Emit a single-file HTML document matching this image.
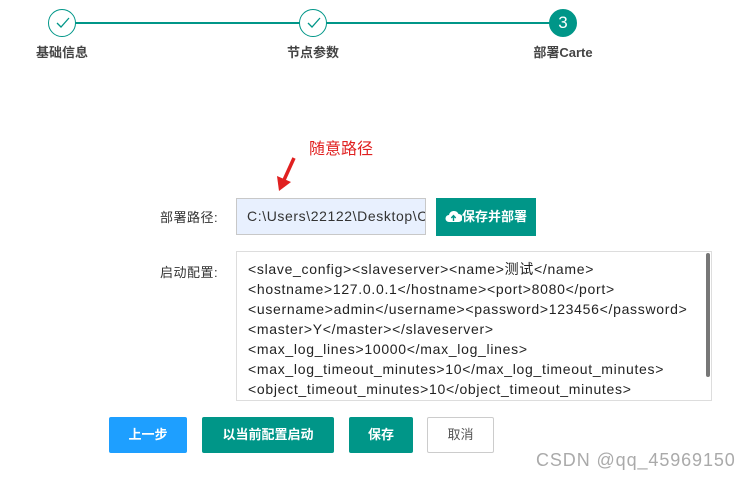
<!DOCTYPE html>
<html><head><meta charset="utf-8"><style>
body{margin:0;width:745px;height:482px;background:#fff;position:relative;overflow:hidden;font-family:"Liberation Sans","Noto Sans CJK SC",sans-serif;}
.a{position:absolute;}
.c{position:absolute;width:28px;height:28px;border-radius:50%;box-sizing:border-box;border:1.5px solid #009688;background:#fff;text-align:center;}
.lbl{position:absolute;font-size:13px;font-weight:bold;color:#444;white-space:nowrap;transform:translateX(-50%);top:42px;}
.btn{position:absolute;top:417px;height:36px;line-height:36px;text-align:center;color:#fff;font-size:13px;font-weight:bold;border-radius:2px;}
.ta div{height:20px;line-height:20px;}
</style></head><body>
<div class="a" style="left:62px;top:22px;width:501px;height:2px;background:#009688"></div>
<div class="c" style="left:48px;top:9px"><svg width="25" height="25"><path d="M7 13l4 4 8-9" fill="none" stroke="#009688" stroke-width="1.3"/></svg></div>
<div class="c" style="left:299px;top:9px"><svg width="25" height="25"><path d="M7 13l4 4 8-9" fill="none" stroke="#009688" stroke-width="1.3"/></svg></div>
<div class="c" style="left:549px;top:9px;background:#009688;color:#fff;font-size:17px;line-height:26px">3</div>
<div class="lbl" style="left:62px">基础信息</div>
<div class="lbl" style="left:313px">节点参数</div>
<div class="lbl" style="left:563px">部署Carte</div>
<div class="a" style="left:309px;top:135px;color:#e02020;font-size:16px">随意路径</div>
<svg class="a" style="left:270px;top:150px" width="40" height="45"><line x1="24" y1="8" x2="14" y2="30" stroke="#e02020" stroke-width="3.5"/><polygon points="7,26 21,32 9,41" fill="#e02020"/></svg>
<div class="a" style="left:160px;top:207px;font-size:13px;color:#333;letter-spacing:0.5px">部署路径:</div>
<div class="a" style="left:236px;top:198px;width:190px;height:37px;box-sizing:border-box;border:1px solid #c8c8c8;background:#e8f0fe;font-size:14px;line-height:35px;padding-left:10px;color:#333;overflow:hidden;white-space:nowrap;letter-spacing:0.6px">C:\Users\22122\Desktop\C</div>
<div class="a" style="left:436px;top:198px;width:100px;height:38px;background:#009688;color:#fff;font-size:13px;font-weight:bold;line-height:38px;text-align:center"><svg width="17" height="13" style="vertical-align:-2px"><path d="M4 12a3.5 3.5 0 0 1 0-7a5 5 0 0 1 9.5-1a4 4 0 0 1 0 8z" fill="#fff"/><path d="M8.5 11V6M6.3 8l2.2-2.3L10.7 8" stroke="#009688" stroke-width="1.4" fill="none"/></svg>保存并部署</div>
<div class="a" style="left:160px;top:262px;font-size:13px;color:#333;letter-spacing:0.5px">启动配置:</div>
<div class="a ta" style="left:236px;top:251px;width:476px;height:150px;box-sizing:border-box;border:1px solid #ddd;padding:7px 0 0 11px;font-size:14px;color:#222;white-space:nowrap;overflow:hidden;letter-spacing:0.7px">
<div>&lt;slave_config&gt;&lt;slaveserver&gt;&lt;name&gt;测试&lt;/name&gt;</div>
<div>&lt;hostname&gt;127.0.0.1&lt;/hostname&gt;&lt;port&gt;8080&lt;/port&gt;</div>
<div>&lt;username&gt;admin&lt;/username&gt;&lt;password&gt;123456&lt;/password&gt;</div>
<div>&lt;master&gt;Y&lt;/master&gt;&lt;/slaveserver&gt;</div>
<div>&lt;max_log_lines&gt;10000&lt;/max_log_lines&gt;</div>
<div>&lt;max_log_timeout_minutes&gt;10&lt;/max_log_timeout_minutes&gt;</div>
<div>&lt;object_timeout_minutes&gt;10&lt;/object_timeout_minutes&gt;</div>
</div>
<div class="a" style="left:706px;top:253px;width:4px;height:124px;background:#777;border-radius:2px"></div>
<div class="btn" style="left:109px;width:78px;background:#1e9fff">上一步</div>
<div class="btn" style="left:202px;width:132px;background:#009688">以当前配置启动</div>
<div class="btn" style="left:349px;width:64px;background:#009688">保存</div>
<div class="btn" style="left:427px;width:65px;height:34px;line-height:34px;background:#fff;border:1px solid #ccc;color:#555;font-weight:normal">取消</div>
<div class="a" style="left:536px;top:450px;font-size:18px;color:#aaa;letter-spacing:0.9px">CSDN @qq_45969150</div>
</body></html>
